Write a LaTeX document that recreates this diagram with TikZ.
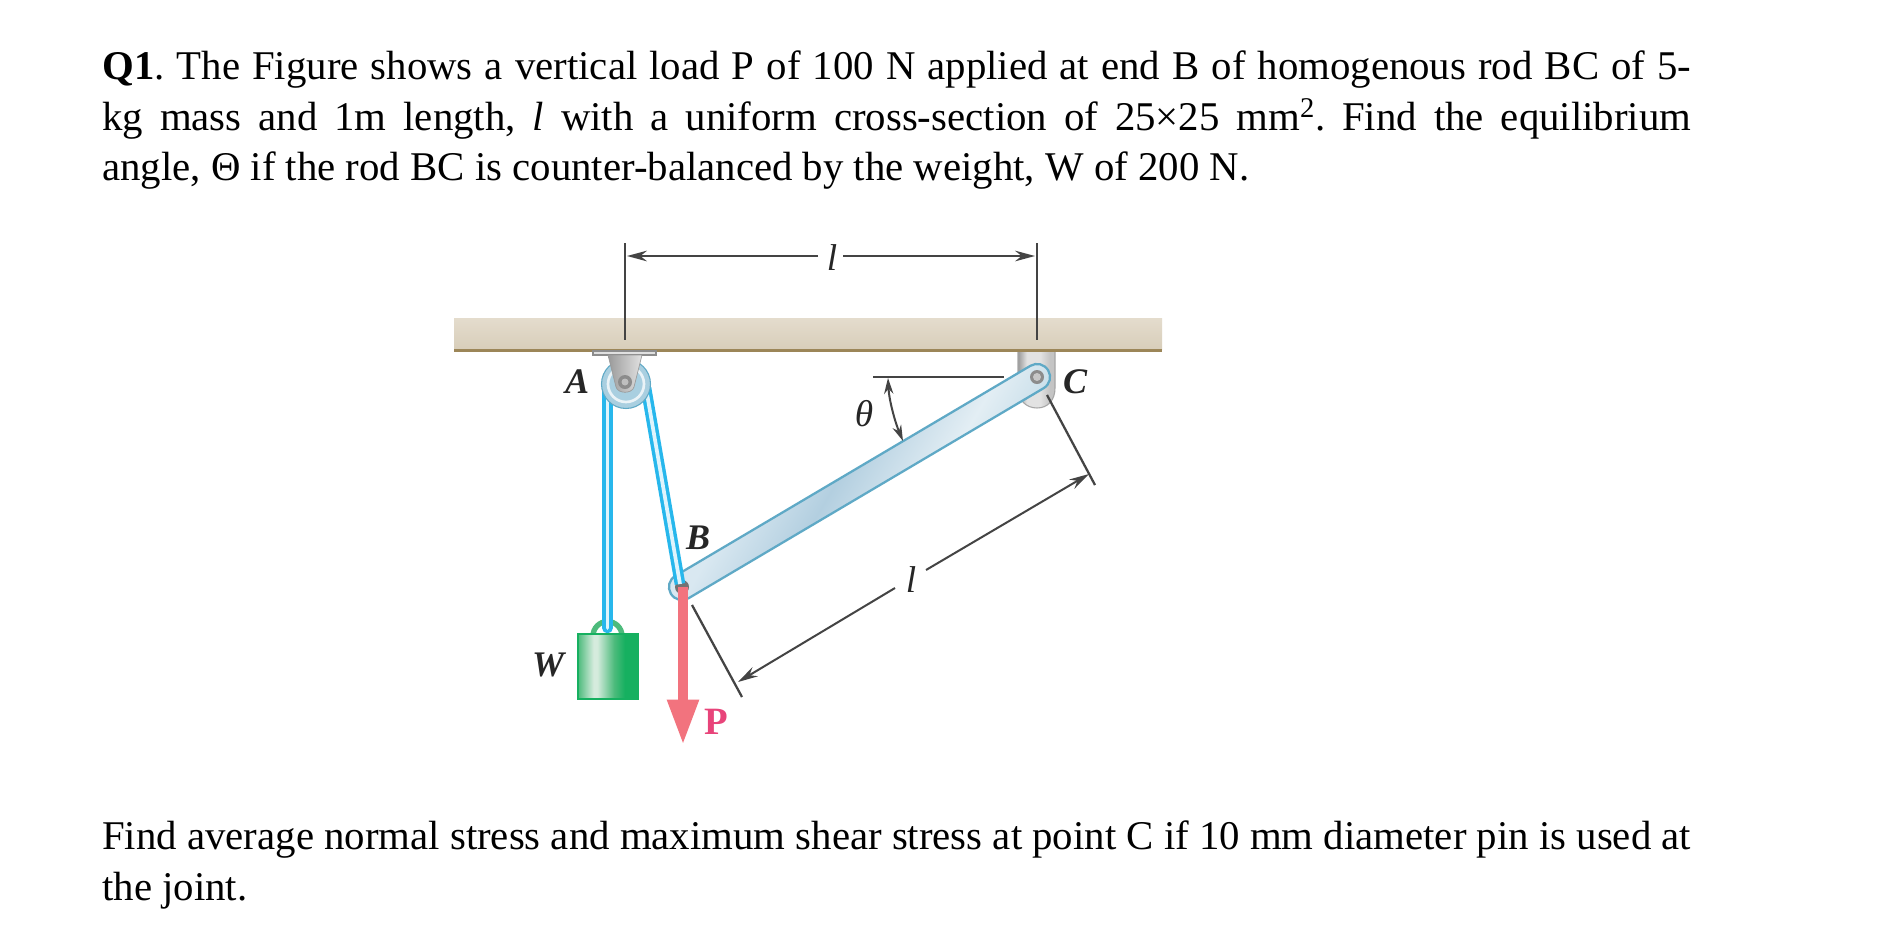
\documentclass[tikz,border=0pt]{standalone}
\usepackage{fontspec}
\setmainfont{Liberation Serif}
\usetikzlibrary{arrows.meta,shapes.geometric}
\definecolor{beamtop}{HTML}{E4DCCD}
\definecolor{beambot}{HTML}{D8CEBA}
\definecolor{beamedge}{HTML}{9C8658}
\definecolor{roppe}{HTML}{27B7EC}
\definecolor{rodedge}{HTML}{5FA9C6}
\definecolor{roda}{HTML}{D9E8F1}
\definecolor{rodb}{HTML}{B3CFE0}
\definecolor{rodc}{HTML}{E3EEF4}
\definecolor{rodd}{HTML}{BAD6E4}
\definecolor{pulley}{HTML}{A9CFE0}
\definecolor{weightg}{HTML}{16B060}
\definecolor{weightm}{HTML}{4DBB7C}
\definecolor{weightl}{HTML}{D5EBDD}
\definecolor{forcec}{HTML}{F2737E}
\definecolor{pinkc}{HTML}{E8447A}
\definecolor{dimc}{HTML}{444444}
\definecolor{grayd}{HTML}{9A9A9A}
\definecolor{grayl}{HTML}{E2E2E2}
\definecolor{graym}{HTML}{C4C4C4}
\pgfdeclarehorizontalshading{rodshade}{100bp}{color(0bp)=(roda); color(36bp)=(roda); color(47bp)=(rodb); color(60bp)=(rodc); color(72bp)=(rodd); color(100bp)=(rodd)}
\pgfdeclarehorizontalshading{weightshade}{100bp}{color(0bp)=(weightm); color(25bp)=(weightm); color(38bp)=(weightl); color(41bp)=(weightl); color(55bp)=(weightm); color(64bp)=(weightg); color(100bp)=(weightg)}
\pgfdeclarehorizontalshading{clevisshade}{100bp}{color(0bp)=(grayd); color(25bp)=(grayd); color(37bp)=(grayl); color(55bp)=(grayl); color(68bp)=(graym); color(75bp)=(graym); color(100bp)=(graym)}
\tikzset{
  bodytext/.style={inner sep=0pt,anchor=base west,font=\fontsize{30.6}{34}\selectfont},
  lab/.style={inner sep=0pt,font=\fontsize{27}{30}\selectfont\bfseries\itshape,text=black!85},
  dimlab/.style={inner sep=0pt,font=\fontsize{28}{30}\selectfont\itshape,text=black!85},
  extline/.style={draw=dimc,line width=1.7pt},
  dimline/.style={draw=dimc,line width=1.5pt},
  tip/.style={-{Stealth[length=15pt,width=8pt,inset=5pt]}},
  tips/.style={{Stealth[length=12pt,width=7pt,inset=4pt]}-{Stealth[length=12pt,width=7pt,inset=4pt]}},
  ropeo/.style={draw=roppe,line width=8pt},
  ropei/.style={draw=white!85!roppe,line width=2.8pt},
}
\newlength{\linew}\setlength{\linew}{1191.75pt}
\newcommand{\justline}[1]{\hbox to \linew{\frenchspacing\spaceskip=.25em plus 1fil minus .2em\relax #1}}
\begin{document}
\frenchspacing
\begin{tikzpicture}[x=0.75pt,y=-0.75pt]
\useasboundingbox (0,0) rectangle (1884,925);
\fill[white] (0,0) rectangle (1884,925);

% text
\node[bodytext] (t1) at (102,79) {\justline{\textbf{Q1}. The Figure shows a vertical load P of 100 N applied at end B of homogenous rod BC of 5-}};
\node[bodytext] (t2) at (102,130) {\justline{kg mass and 1m length, \textit{l} with a uniform cross-section of 25×25 mm\textsuperscript{2}. Find the equilibrium}};
\node[bodytext] (t3) at (102,180) {angle, Θ if the rod BC is counter-balanced by the weight, W of 200 N.};
\node[bodytext] (t4) at (102,849) {Find average normal stress and maximum shear stress at point C if 10 mm diameter pin is used at};
\node[bodytext] (t5) at (102,900) {the joint.};

% coordinates
\coordinate (A) at (625,382);
\coordinate (Pc) at (626,384);
\coordinate (B) at (682,587);
\coordinate (C) at (1037,377);

% clevis at C
\path[draw=black!35,line width=.8pt,shading=clevisshade]
  (1018,351) -- (1018,388) .. controls (1018,400) and (1026,408) .. (1037,408)
  .. controls (1048,408) and (1055,400) .. (1055,388) -- (1055,351) -- cycle;

% beam
\path[top color=beamtop,bottom color=beambot] (454,318) rectangle (1162,349);
\fill[beamedge] (454,349) rectangle (1162,351.5);

% shackle and ropes
\coordinate (r1a) at (607.5,384);
\coordinate (r1b) at (607.5,628);
\coordinate (r2a) at (646,388);
\coordinate (r2b) at (680,584);
\draw[weightm,line width=4pt] (593,636) arc[start angle=180,end angle=360,radius=14.5];

% rod
\path[shading=rodshade,shading angle=-30.6,draw=rodedge,line width=1.7pt]
  (675.4,575.8) -- (1030.4,365.8)
  .. controls (1036.6,362.1) and (1044.5,364.1) .. (1048.2,370.4)
  .. controls (1051.9,376.6) and (1049.9,384.5) .. (1043.6,388.2)
  -- (688.6,598.2)
  .. controls (682.4,601.9) and (674.5,599.9) .. (670.8,593.6)
  .. controls (667.1,587.4) and (669.1,579.5) .. (675.4,575.8) -- cycle;
\fill[black!45] (C) circle[radius=7];
\fill[black!22] (C) circle[radius=4];
\fill[black!55] (B) circle[radius=7];

% ropes over the rod, under the pulley
\draw[ropeo,line cap=round] (r1a) -- (r1b);
\draw[ropei,line cap=round] (r1a) -- (r1b);
\draw[ropeo] (r2a) -- (r2b);
\draw[ropei] (r2a) -- (r2b);

% pulley A
\fill[pulley] (Pc) circle[radius=24.5];
\draw[white!75!pulley,line width=2pt] (Pc) circle[radius=18];
\draw[rodedge,line width=.8pt] (Pc) circle[radius=24.5];

% bracket A
\path[draw=black!45,fill=black!12,line width=.8pt] (593,351) rectangle (656,355);
\path[left color=grayd,right color=grayl,draw=black!40,line width=.5pt]
  (608,355) -- (642,355) -- (634,387) .. controls (632,394) and (618,394) .. (616,387) -- cycle;
\fill[black!45] (A) circle[radius=7];
\fill[black!25] (A) circle[radius=3.5];

% weight
\path[shading=weightshade,draw=weightg,line width=1.2pt] (578,634) rectangle (638,699);

% extension lines and dimensions
\coordinate (e1a) at (625,243); \coordinate (e1b) at (625,340);
\coordinate (e2a) at (1037,243); \coordinate (e2b) at (1037,340);
\draw[extline] (e1a) -- (e1b);
\draw[extline] (e2a) -- (e2b);
\node[dimlab] (ltop) at (832,258) {l};
\coordinate (d1a) at (818,256); \coordinate (d1b) at (627,256);
\coordinate (d2a) at (843,256); \coordinate (d2b) at (1035,256);
\draw[dimline,tip] (d1a) -- (d1b);
\draw[dimline,tip] (d2a) -- (d2b);

\coordinate (e3a) at (1047,395); \coordinate (e3b) at (1095,485);
\coordinate (e4a) at (692,605); \coordinate (e4b) at (742,697);
\draw[extline] (e3a) -- (e3b);
\draw[extline] (e4a) -- (e4b);
\node[dimlab] (llow) at (911,580) {l};
\coordinate (d3a) at (895,588); \coordinate (d3b) at (738,682);
\coordinate (d4a) at (926,570); \coordinate (d4b) at (1089,474);
\draw[dimline,tip] (d3a) -- (d3b);
\draw[dimline,tip] (d4a) -- (d4b);

% angle
\coordinate (h1) at (873,377); \coordinate (h2) at (1004,377);
\draw[dimline] (h1) -- (h2);
\coordinate (th1) at (888,378); \coordinate (th2) at (903,441);
\draw[dimline,tips] (th1) .. controls (889,400) and (895,422) .. (th2);
\node[dimlab] (th) at (864,414) {θ};

% force P
\coordinate (f1) at (683,587);
\coordinate (f2) at (683,745);
\draw[forcec,line width=7.5pt,-{Triangle[length=34pt,width=22pt]}] (f1) -- (f2);
\node[inner sep=0pt,text=pinkc,font=\fontsize{29}{30}\selectfont\bfseries] (P) at (716,722) {P};

% labels
\node[lab] (LA) at (577,382) {A};
\node[lab] (LB) at (698,538) {B};
\node[lab] (LC) at (1075,382) {C};
\node[lab] (LW) at (548,665) {W};
\end{tikzpicture}
\end{document}
